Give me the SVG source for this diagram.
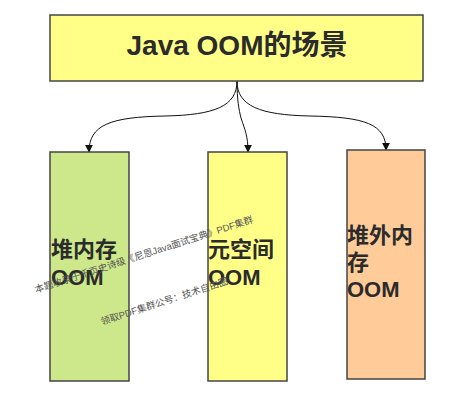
<svg xmlns="http://www.w3.org/2000/svg" width="474" height="405" viewBox="0 0 474 405">
<style>
.box{stroke:#444;stroke-width:1.5}
.t{font-family:"Liberation Sans","Noto Sans CJK SC",sans-serif;font-weight:bold;fill:#2b2b2b}
.c{fill:none;stroke:#111;stroke-width:1}
.wm{font-family:"Liberation Sans","Noto Sans CJK SC",sans-serif;font-size:9.5px;fill:#555}
</style>
<defs>
<marker id="arr" viewBox="0 0 10 10" refX="9" refY="5" markerWidth="8" markerHeight="8" markerUnits="userSpaceOnUse" orient="auto">
<path d="M0,0 L10,5 L0,10 z" fill="#111"/>
</marker>
</defs>
<rect width="474" height="405" fill="#fff"/>
<g id="connectors">
<path class="c" marker-end="url(#arr)" d="M237,81 C237,106 215,115 165,116 C110,117 89,125 89,152"/>
<path class="c" marker-end="url(#arr)" d="M237,81 C237,100 239,110 241,118 C245,130 248,136 248,152"/>
<path class="c" marker-end="url(#arr)" d="M237,81 C237,106 260,115 310,116 C365,117 386,124 386,150"/>
</g>
<g id="title">
<rect class="box" x="50" y="15" width="373" height="66" fill="#ffff88"/>
<text class="t" x="237" y="55" font-size="28" text-anchor="middle">Java OOM的场景</text>
</g>
<g id="heap">
<rect class="box" x="50" y="152" width="79" height="229" fill="#cde88a"/>
<text class="t" font-size="22" x="51" y="257">堆内存</text>
<text class="t" font-size="22" x="51" y="285">OOM</text>
</g>
<g id="metaspace">
<rect class="box" x="208" y="152" width="79" height="229" fill="#ffff88"/>
<text class="t" font-size="22" x="208" y="257">元空间</text>
<text class="t" font-size="22" x="208" y="285">OOM</text>
</g>
<g id="offheap">
<rect class="box" x="347" y="150" width="78" height="229" fill="#ffcc99"/>
<text class="t" font-size="22" x="347" y="243">堆外内</text>
<text class="t" font-size="22" x="347" y="270">存</text>
<text class="t" font-size="22" x="347" y="297">OOM</text>
</g>
<g id="watermark">
<text class="wm" transform="translate(36,293) rotate(-18)">本题收录于千页史诗级《尼恩Java面试宝典》PDF集群</text>
<text class="wm" transform="translate(102,325) rotate(-18)">领取PDF集群公号：技术自由圈</text>
</g>
</svg>
